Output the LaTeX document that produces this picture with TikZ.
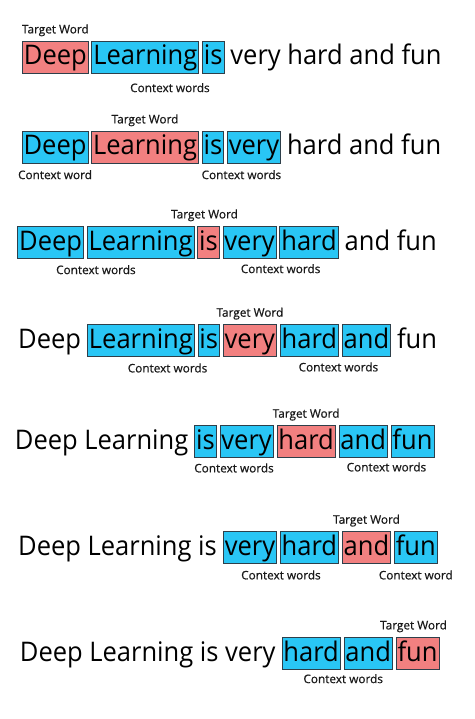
\documentclass[tikz,border=0pt]{standalone}
\usepackage{fontspec}
\setmainfont{Open Sans}
\newfontfamily\wordfont{Open Sans}[FakeStretch=0.945]
\newfontfamily\lblfont{Open Sans}[FakeBold=0.6]
\usetikzlibrary{calc,positioning}
\definecolor{ctxblue}{HTML}{29C6F5}
\definecolor{tgtred}{HTML}{F28080}
\definecolor{boxline}{HTML}{2E3F4A}
\begin{document}
\begin{tikzpicture}[
    x=1pt,y=-1pt,
    node distance=2.8pt,
    word/.style={inner xsep=1.5pt,inner ysep=1pt,text height=23pt,text depth=7.5pt,font=\wordfont\fontsize{27}{32}\selectfont},
    plain/.style={word,inner xsep=3pt},
    ctx/.style={word,draw=boxline,fill=ctxblue,line width=0.8pt},
    tgt/.style={word,draw=boxline,fill=tgtred,line width=0.8pt},
    lbl/.style={inner sep=0pt,text height=9pt,text depth=2.5pt,text=black!90,font=\lblfont\fontsize{11.8}{13}\selectfont}
  ]
    \useasboundingbox (0,0) rectangle (474,719);

    \node[tgt,anchor=base west] (r1deep) at (22,65) {Deep};
    \node[ctx,right=of r1deep] (r1learn) {Learning};
    \node[ctx,right=of r1learn] (r1is) {is};
    \node[plain,right=of r1is] (r1rest) {very hard and fun};
    \node[lbl,above=4.5pt of r1deep] (r1tgt) {Target Word};
    \node[lbl,anchor=north,xshift=12pt,yshift=-9pt] (r1ctx) at ($(r1learn.south west)!0.5!(r1is.south east)$) {Context words};

    \node[ctx,anchor=base west] (r2deep) at (21.7,155) {Deep};
    \node[tgt,right=of r2deep] (r2learn) {Learning};
    \node[ctx,right=of r2learn] (r2is) {is};
    \node[ctx,right=of r2is] (r2very) {very};
    \node[plain,right=of r2very] (r2rest) {hard and fun};
    \node[lbl,above=4.5pt of r2learn] (r2tgt) {Target Word};
    \node[lbl,below=6pt of r2deep] (r2ctxa) {Context word};
    \node[lbl,anchor=north,yshift=-6pt] (r2ctxb) at ($(r2is.south west)!0.5!(r2very.south east)$) {Context words};

    \node[ctx,anchor=base west] (r3deep) at (17.3,250) {Deep};
    \node[ctx,right=of r3deep] (r3learn) {Learning};
    \node[tgt,right=of r3learn] (r3is) {is};
    \node[ctx,right=of r3is] (r3very) {very};
    \node[ctx,right=of r3very] (r3hard) {hard};
    \node[plain,right=of r3hard] (r3rest) {and fun};
    \node[lbl,above=4.5pt of r3is,xshift=-4pt] (r3tgt) {Target Word};
    \node[lbl,anchor=north,xshift=-10pt,yshift=-6pt] (r3ctxa) at ($(r3deep.south west)!0.5!(r3learn.south east)$) {Context words};
    \node[lbl,anchor=north,yshift=-5pt] (r3ctxb) at ($(r3very.south west)!0.5!(r3hard.south east)$) {Context words};

    \node[plain,anchor=base west] (r4deep) at (15,348.3) {Deep};
    \node[ctx,right=of r4deep] (r4learn) {Learning};
    \node[ctx,right=of r4learn] (r4is) {is};
    \node[tgt,right=of r4is] (r4very) {very};
    \node[ctx,right=of r4very] (r4hard) {hard};
    \node[ctx,right=of r4hard] (r4and) {and};
    \node[plain,right=of r4and] (r4fun) {fun};
    \node[lbl,above=4.5pt of r4very] (r4tgt) {Target Word};
    \node[lbl,anchor=north,xshift=14pt,yshift=-6pt] (r4ctxa) at ($(r4learn.south west)!0.5!(r4is.south east)$) {Context words};
    \node[lbl,anchor=north,xshift=3pt,yshift=-5pt] (r4ctxb) at ($(r4hard.south west)!0.5!(r4and.south east)$) {Context words};

    \node[plain,anchor=base west] (r5start) at (11.7,449.3) {Deep Learning};
    \node[ctx,right=of r5start] (r5is) {is};
    \node[ctx,right=of r5is] (r5very) {very};
    \node[tgt,right=of r5very] (r5hard) {hard};
    \node[ctx,right=of r5hard] (r5and) {and};
    \node[ctx,right=of r5and] (r5fun) {fun};
    \node[lbl,above=4.5pt of r5hard] (r5tgt) {Target Word};
    \node[lbl,anchor=north,yshift=-5pt] (r5ctxa) at ($(r5is.south west)!0.5!(r5very.south east)$) {Context words};
    \node[lbl,anchor=north,yshift=-4pt] (r5ctxb) at ($(r5and.south west)!0.5!(r5fun.south east)$) {Context words};

    \node[plain,anchor=base west] (r6start) at (15,555.3) {Deep Learning is};
    \node[ctx,right=of r6start] (r6very) {very};
    \node[ctx,right=of r6very] (r6hard) {hard};
    \node[tgt,right=of r6hard] (r6and) {and};
    \node[ctx,right=of r6and] (r6fun) {fun};
    \node[lbl,above=4.5pt of r6and] (r6tgt) {Target Word};
    \node[lbl,anchor=north,yshift=-6pt] (r6ctxa) at ($(r6very.south west)!0.5!(r6hard.south east)$) {Context words};
    \node[lbl,below=6pt of r6fun] (r6ctxb) {Context word};

    \node[plain,anchor=base west] (r7start) at (16.7,661) {Deep Learning is very};
    \node[ctx,right=of r7start] (r7hard) {hard};
    \node[ctx,right=of r7hard] (r7and) {and};
    \node[tgt,right=of r7and] (r7fun) {fun};
    \node[lbl,above=4.5pt of r7fun,xshift=-4pt] (r7tgt) {Target Word};
    \node[lbl,anchor=north,xshift=6pt,yshift=-4pt] (r7ctx) at ($(r7hard.south west)!0.5!(r7and.south east)$) {Context words};
  \end{tikzpicture}
\end{document}
